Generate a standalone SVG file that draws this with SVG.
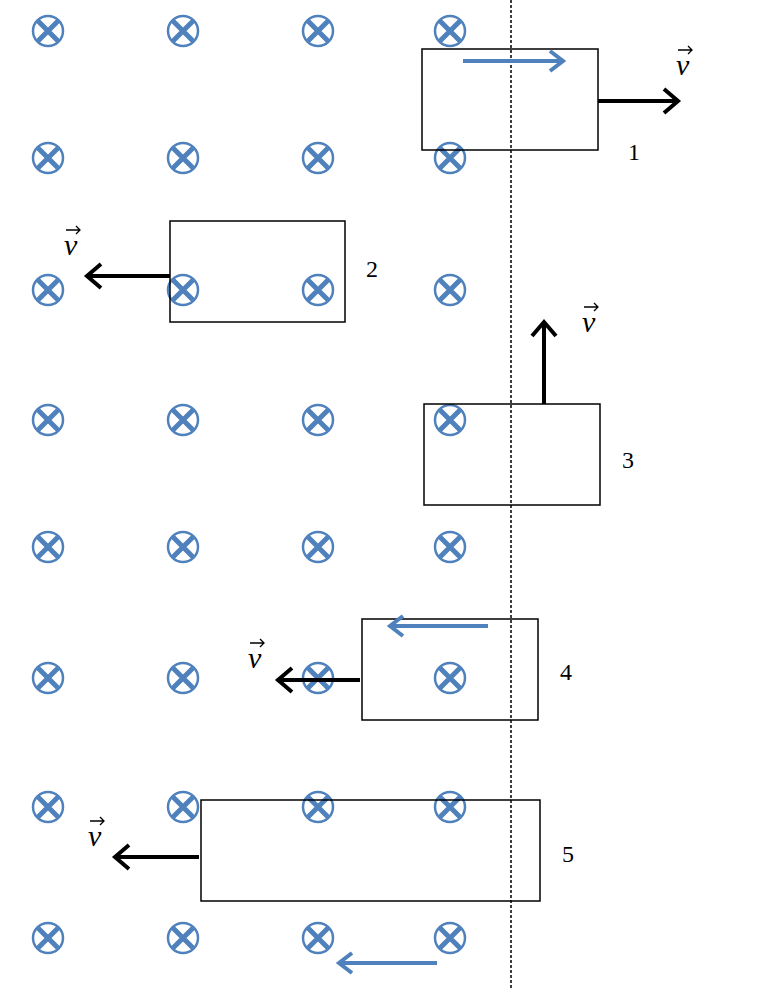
<svg xmlns="http://www.w3.org/2000/svg" width="766" height="988" viewBox="0 0 766 988">
<defs>
<style>
.box{fill:none;stroke:#000;stroke-width:1.5}
.blk{stroke:#000;stroke-width:4;fill:none}
.blu{stroke:#4f81bd;stroke-width:4;fill:none}
.v{font-family:"Liberation Serif",serif;font-style:italic;font-size:30px}
.n{font-family:"Liberation Serif",serif;font-size:24px}
.va{stroke:#000;stroke-width:1.3;fill:none}
</style>
<g id="x"><circle r="15" fill="none" stroke="#4f81bd" stroke-width="2.5"/><path d="M-10,-10L10,10M10,-10L-10,10" stroke="#4f81bd" stroke-width="5"/></g>
</defs>
<rect width="766" height="988" fill="#fff"/>
<g id="field">
<use href="#x" x="48" y="31"/><use href="#x" x="183" y="31"/><use href="#x" x="318" y="31"/><use href="#x" x="450" y="31"/>
<use href="#x" x="48" y="158"/><use href="#x" x="183" y="158"/><use href="#x" x="318" y="158"/><use href="#x" x="450" y="158"/>
<use href="#x" x="48" y="290"/><use href="#x" x="183" y="290"/><use href="#x" x="318" y="290"/><use href="#x" x="450" y="290"/>
<use href="#x" x="48" y="420"/><use href="#x" x="183" y="420"/><use href="#x" x="318" y="420"/><use href="#x" x="450" y="420"/>
<use href="#x" x="48" y="547"/><use href="#x" x="183" y="547"/><use href="#x" x="318" y="547"/><use href="#x" x="450" y="547"/>
<use href="#x" x="48" y="678"/><use href="#x" x="183" y="678"/><use href="#x" x="318" y="678"/><use href="#x" x="450" y="678"/>
<use href="#x" x="48" y="807"/><use href="#x" x="183" y="807"/><use href="#x" x="318" y="807"/><use href="#x" x="450" y="807"/>
<use href="#x" x="48" y="938"/><use href="#x" x="183" y="938"/><use href="#x" x="318" y="938"/><use href="#x" x="450" y="938"/>
</g>
<line x1="511" y1="0" x2="511" y2="988" stroke="#000" stroke-width="1.5" stroke-dasharray="3,2"/>
<g id="loop1"><rect class="box" x="422" y="49" width="176" height="101"/><text class="n" x="628" y="160">1</text></g>
<g id="loop2"><rect class="box" x="170" y="221" width="175" height="101"/><text class="n" x="366" y="277">2</text></g>
<g id="loop3"><rect class="box" x="424" y="404" width="176" height="101"/><text class="n" x="622" y="468">3</text></g>
<g id="loop4"><rect class="box" x="362" y="619" width="176" height="101"/><text class="n" x="560" y="680">4</text></g>
<g id="loop5"><rect class="box" x="201" y="800" width="339" height="101"/><text class="n" x="562" y="862">5</text></g>
<g id="connectors">
<path class="blk" d="M598,101H678M664,89L678,101L664,113"/>
<path class="blk" d="M170,276H87M101,264L87,276L101,288"/>
<path class="blk" d="M544,404V322M532,336L544,322L556,336"/>
<path class="blk" d="M360,680H278M292,668L278,680L292,692"/>
<path class="blk" d="M199,857H115M129,845L115,857L129,869"/>
<path class="blu" d="M463,61H563M550,51L563,61L550,71"/>
<path class="blu" d="M488,626H390M403,616L390,626L403,636"/>
<path class="blu" d="M437,963H339M352,953L339,963L352,973"/>
</g>
<g id="labels">
<text class="v" x="676" y="75">v</text><path class="va" d="M678,50H692M688,46L692,50L688,54"/>
<text class="v" x="64" y="255">v</text><path class="va" d="M66,230H80M76,226L80,230L76,234"/>
<text class="v" x="582" y="332">v</text><path class="va" d="M584,307H598M594,303L598,307L594,311"/>
<text class="v" x="248" y="668">v</text><path class="va" d="M250,643H264M260,639L264,643L260,647"/>
<text class="v" x="88" y="846">v</text><path class="va" d="M90,821H104M100,817L104,821L100,825"/>
</g>
</svg>
